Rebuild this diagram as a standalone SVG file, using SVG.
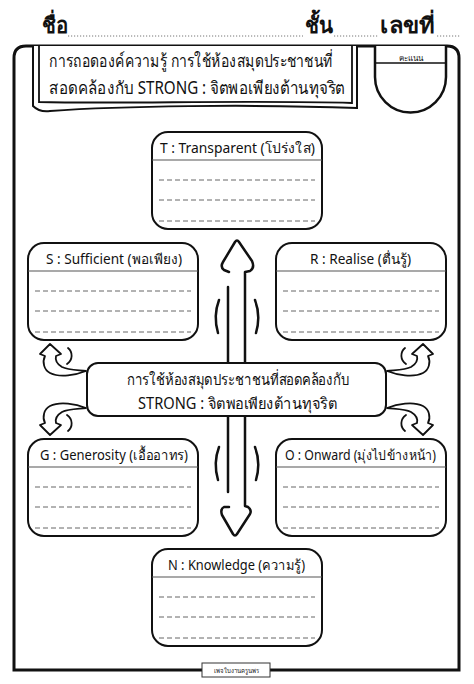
<svg xmlns="http://www.w3.org/2000/svg" width="474" height="684" viewBox="0 0 474 684">
<style>
text{font-family:"Noto Sans","DejaVu Sans",sans-serif;fill:#111}
.hdr{font-size:22px;font-weight:bold}
.dots{stroke:#777;stroke-width:1;stroke-dasharray:1.2 1.8;fill:none}
.frame{fill:none;stroke:#111;stroke-width:3}
.box{fill:#fff;stroke:#111;stroke-width:2}
.div{stroke:#555;stroke-width:1.2}
.dash{stroke:#666;stroke-width:1;stroke-dasharray:5 3;fill:none}
.bt{font-size:13.5px;text-anchor:middle}
.ct{font-size:15.5px;text-anchor:middle}
.ln{fill:none;stroke:#111;stroke-width:2.5;stroke-linecap:round;stroke-linejoin:round}
.sw{fill:#fff;stroke:#111;stroke-width:1.8;stroke-linejoin:round}
.arc{fill:none;stroke:#111;stroke-width:1.8;stroke-linecap:round}
</style>
<defs>
<g id="swoosh">
<path class="sw" d="M86,371 C78,370 68,370 62,367 C57,364 55,360 56,356 L61,354 L50,344 L40,354 L45,356 C42,362 44,370 50,373 C60,378 76,375 86,371 Z"/>
<path class="arc" d="M68,348 C73,352 73,360 67,364"/>
</g>
</defs>
<rect width="474" height="684" fill="#fff"/>
<g id="header">
<text class="hdr" x="42" y="33" textLength="26" lengthAdjust="spacingAndGlyphs">ชื่อ</text>
<line class="dots" x1="68" y1="36" x2="303" y2="36"/>
<text class="hdr" x="305" y="33" textLength="28" lengthAdjust="spacingAndGlyphs">ชั้น</text>
<line class="dots" x1="334" y1="36" x2="378" y2="36"/>
<text class="hdr" x="380" y="33" textLength="55" lengthAdjust="spacingAndGlyphs">เลขที่</text>
<line class="dots" x1="437" y1="36" x2="460" y2="36"/>
</g>
<path class="frame" d="M14,670 L14,58 Q14,46 26,46 L447,46 Q459,46 459,58 L459,670 Z"/>
<g id="title">
<path d="M33,46 L33,106 C37,110 42,112 50,111 C120,106 250,104 357,108 L357,46" fill="#fff" stroke="#111" stroke-width="2"/>
<path d="M39,46 L39,102 C120,104 250,100 352,103 L352,46" fill="none" stroke="#111" stroke-width="1.8"/>
<text x="49" y="67" font-size="17.5" textLength="284" lengthAdjust="spacingAndGlyphs">การถอดองค์ความรู้ การใช้ห้องสมุดประชาชนที่</text>
<text x="49" y="94" font-size="17.5" textLength="296" lengthAdjust="spacingAndGlyphs">สอดคล้องกับ STRONG : จิตพอเพียงต้านทุจริต</text>
</g>
<g id="score">
<path d="M375,46 L375,77 A35.5,35.5 0 0 0 446,77 L446,46" fill="#fff" stroke="#111" stroke-width="2.5"/>
<line x1="375" y1="63" x2="446" y2="63" stroke="#111" stroke-width="1.5"/>
<text x="410.5" y="60.5" font-size="8" text-anchor="middle">คะแนน</text>
</g>
<g id="connectors">
<path class="ln" d="M228,287 L228,363"/>
<path class="ln" d="M229,272 L224,270 Q220,267 223,262 L235,242 Q237,239 239,242 L252,261 Q255,268 250,271 L245,272 L245,363"/>
<path class="ln" d="M228,416 L228,492"/>
<path class="ln" d="M245,416 L245,506 L248,507 Q252,510 250,514 L237,534 Q235,537 233,534 L222,515 Q220,509 224,507 L229,507"/>
<path class="ln" d="M219,300 Q213,316 218,333"/>
<path class="ln" d="M255,300 Q261,316 256,333"/>
<path class="ln" d="M219,447 Q213,463 218,480"/>
<path class="ln" d="M255,447 Q261,463 256,480"/>
<use href="#swoosh"/>
<use href="#swoosh" transform="translate(0,779) scale(1,-1)"/>
<use href="#swoosh" transform="translate(473,0) scale(-1,1)"/>
<use href="#swoosh" transform="translate(473,779) scale(-1,-1)"/>
</g>
<g id="center">
<rect class="box" x="87" y="363" width="299" height="53" rx="11"/>
<text class="ct" x="238" y="385" textLength="222" lengthAdjust="spacingAndGlyphs">การใช้ห้องสมุดประชาชนที่สอดคล้องกับ</text>
<text class="ct" x="237.5" y="409" textLength="199" lengthAdjust="spacingAndGlyphs">STRONG : จิตพอเพียงต้านทุจริต</text>
</g>
<g id="node-T">
<rect class="box" x="152" y="132" width="170" height="97" rx="16"/>
<line class="div" x1="152" y1="160" x2="322" y2="160"/>
<text class="bt" x="237.5" y="153" textLength="155" lengthAdjust="spacingAndGlyphs">T : Transparent (โปร่งใส)</text>
<path class="dash" d="M159,180 H315 M159,200 H315 M159,221 H315"/>
</g>
<g id="node-S">
<rect class="box" x="28" y="243" width="170" height="97" rx="16"/>
<line class="div" x1="28" y1="271" x2="198" y2="271"/>
<text class="bt" x="114" y="264" textLength="136" lengthAdjust="spacingAndGlyphs">S : Sufficient (พอเพียง)</text>
<path class="dash" d="M35,291 H191 M35,311 H191 M35,332 H191"/>
</g>
<g id="node-R">
<rect class="box" x="276" y="243" width="170" height="97" rx="16"/>
<line class="div" x1="276" y1="271" x2="446" y2="271"/>
<text class="bt" x="360.5" y="264" textLength="101" lengthAdjust="spacingAndGlyphs">R : Realise (ตื่นรู้)</text>
<path class="dash" d="M283,291 H439 M283,311 H439 M283,332 H439"/>
</g>
<g id="node-G">
<rect class="box" x="28" y="439" width="170" height="97" rx="16"/>
<line class="div" x1="28" y1="467" x2="198" y2="467"/>
<text class="bt" x="114" y="460" textLength="148" lengthAdjust="spacingAndGlyphs">G : Generosity (เอื้ออาทร)</text>
<path class="dash" d="M35,487 H191 M35,507 H191 M35,528 H191"/>
</g>
<g id="node-O">
<rect class="box" x="276" y="439" width="170" height="97" rx="16"/>
<line class="div" x1="276" y1="467" x2="446" y2="467"/>
<text class="bt" x="360.5" y="460" textLength="151" lengthAdjust="spacingAndGlyphs">O : Onward (มุ่งไปข้างหน้า)</text>
<path class="dash" d="M283,487 H439 M283,507 H439 M283,528 H439"/>
</g>
<g id="node-N">
<rect class="box" x="152" y="549" width="170" height="97" rx="16"/>
<line class="div" x1="152" y1="577" x2="322" y2="577"/>
<text class="bt" x="236.5" y="570" textLength="137" lengthAdjust="spacingAndGlyphs">N : Knowledge (ความรู้)</text>
<path class="dash" d="M159,597 H315 M159,617 H315 M159,638 H315"/>
</g>
<g id="footer">
<rect x="202" y="663" width="68" height="14" fill="#fff" stroke="#333" stroke-width="1"/>
<text x="236" y="672.5" font-size="6" text-anchor="middle">เพจใบงานครูนพร</text>
</g>
</svg>
